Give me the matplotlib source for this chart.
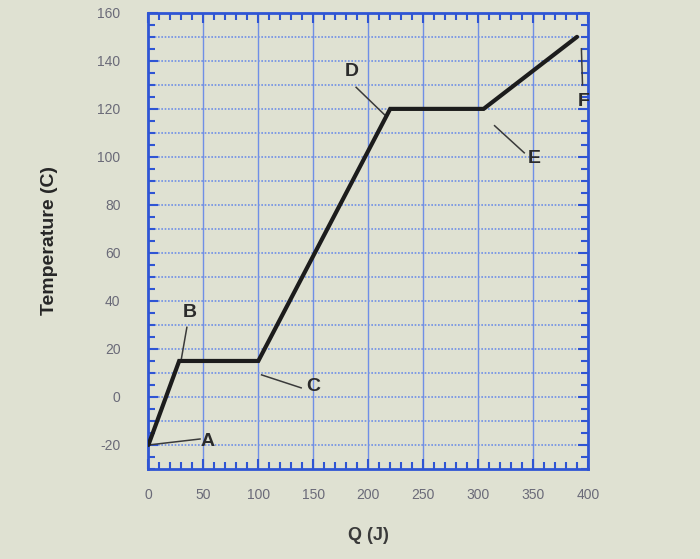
import numpy as np
import matplotlib
matplotlib.use("Agg")
from matplotlib import pyplot as plt
from matplotlib.ticker import MultipleLocator

plt.rcParams['axes.unicode_minus'] = False

# heating curve corners
q_vals = [0, 28, 100, 220, 305, 390]
t_vals = [-20, 15, 15, 120, 120, 150]

# point labels and their leader lines
labels = ["A", "B", "C", "D", "E", "F"]
label_x = [54, 38, 150, 185, 351, 396]
label_y = [-18.5, 35, 4.5, 135.5, 99.5, 123]
lead_x0 = [0, 29.5, 103, 189, 315, 394]
lead_y0 = [-20, 14.6, 9.2, 129, 113, 145]
lead_x1 = [47, 35, 139, 215, 342, 395]
lead_y1 = [-17.5, 29, 3.8, 117.5, 101.7, 130]

x_ticks = np.arange(0, 401, 50)
y_ticks = np.arange(-20, 161, 20)

BG = '#dfe1d2'
BLUE = '#2f55d4'
GRID = '#6f8fe6'

fig = plt.figure(figsize=(7, 5.59), dpi=100, facecolor=BG)
ax = fig.add_axes([0.212, 0.161, 0.628, 0.816], facecolor=BG)

ax.plot(q_vals, t_vals, color='#1c1c1c', linewidth=3, solid_capstyle='round',
        solid_joinstyle='miter', zorder=5)

for i in range(len(labels)):
    ax.plot([lead_x0[i], lead_x1[i]], [lead_y0[i], lead_y1[i]],
            color='#3a3a3a', linewidth=1.1, zorder=4)
    ax.text(label_x[i], label_y[i], labels[i], fontsize=14, fontweight='bold',
            color='#2b2b2b', ha='center', va='center', family='Liberation Sans',
            zorder=6)

ax.set_xlim(0, 400)
ax.set_ylim(-30, 160)
ax.set_xticks(x_ticks)
ax.set_yticks(y_ticks)
ax.xaxis.set_minor_locator(MultipleLocator(10))
ax.yaxis.set_minor_locator(MultipleLocator(5))

# grid: solid vertical every 50, dotted horizontal every 10
for xv in x_ticks[1:-1]:
    ax.axvline(xv, color=GRID, linewidth=1.0, zorder=1)
for yv in np.arange(-20, 160, 10):
    ax.axhline(yv, color=GRID, linewidth=1.2, linestyle=(0, (1, 1)), zorder=1)

for s in ax.spines.values():
    s.set_color(BLUE)
    s.set_linewidth(2)

ax.tick_params(which='both', direction='in', color=BLUE, top=True, right=True,
               labelcolor='#6a6a78', labelsize=10)
ax.tick_params(which='major', length=7, width=1.5)
ax.tick_params(which='minor', length=5, width=1.5)
ax.tick_params(axis='x', pad=14)
ax.tick_params(axis='y', pad=20)
for lab in ax.get_xticklabels() + ax.get_yticklabels():
    lab.set_family('Liberation Sans')

ax.set_xlabel('Q (J)', fontsize=13, fontweight='bold', color='#3a3a3a',
              family='Liberation Sans', labelpad=18)
ax.set_ylabel('Temperature (C)', fontsize=14, fontweight='bold', color='#262626',
              family='Liberation Sans', labelpad=28)

fig.savefig('out.png', dpi=100, facecolor=BG)
